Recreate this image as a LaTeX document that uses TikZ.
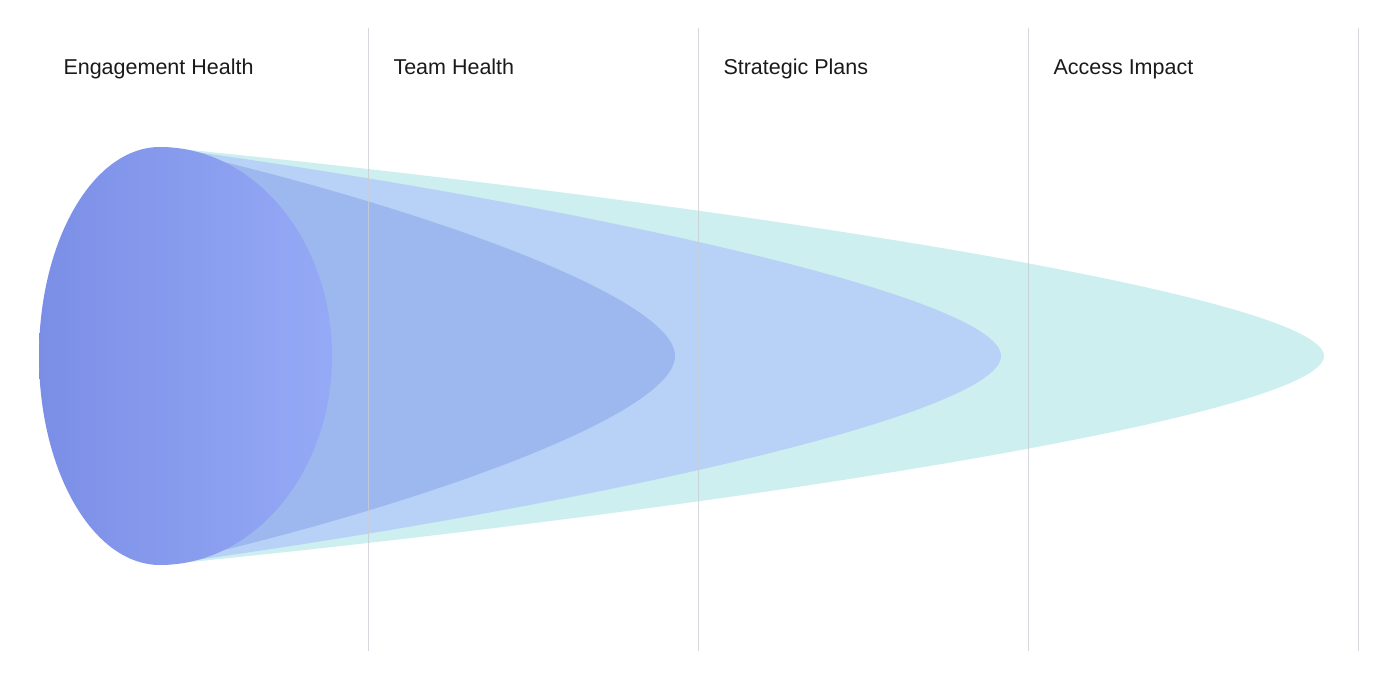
\documentclass[tikz,border=0pt]{standalone}
\usepackage{fontspec}
\setmainfont{Liberation Sans}
\usepackage{tikz}

\definecolor{accesscol}{HTML}{CDEFEF}
\definecolor{stratcol}{HTML}{B7D2F6}
\definecolor{teamcol}{HTML}{9DB7EF}
\definecolor{englcol}{HTML}{7B8EE6}
\definecolor{engrcol}{HTML}{95AAF6}
\definecolor{gridcol}{HTML}{C9CDD3}
\definecolor{textcol}{HTML}{1A1A1A}

\begin{document}
\begin{tikzpicture}[x=1pt, y=1pt, line width=1pt,
    label/.style={anchor=base west, inner sep=0pt, text=textcol,
                  font=\fontsize{21.5}{25}\selectfont}]
    \useasboundingbox (0, 0) rectangle (1398, 691);

    % draw cones, back to front
    \foreach \w/\col in {1164/accesscol, 841/stratcol, 515/teamcol}
      \fill[color=\col] (160, 544)
          .. controls (160+0.464*\w, 491) and (160+\w, 396) .. (160+\w, 335)
          .. controls (160+\w, 274) and (160+0.464*\w, 179) .. (160, 126) -- cycle;

    % draw shaded front ellipse
    \shade[left color=englcol, right color=engrcol]
      (160, 544) arc [start angle = 90, end angle = 270, x radius = 121, y radius = 209]
                 arc [start angle = 270, end angle = 450, x radius = 172, y radius = 209] -- cycle;

    % draw column lines
    \foreach \x in {368, 698, 1028, 1358}
      \draw[color=gridcol, opacity=0.8] (\x, 663) -- (\x, 40);

    % draw column titles
    \foreach \x/\name/\txt in {38/eng/Engagement Health, 368/team/Team Health,
                               698/strat/Strategic Plans, 1028/access/Access Impact}
      \node[label] (\name) at (\x+25, 616) {\txt};

\end{tikzpicture}
\end{document}
